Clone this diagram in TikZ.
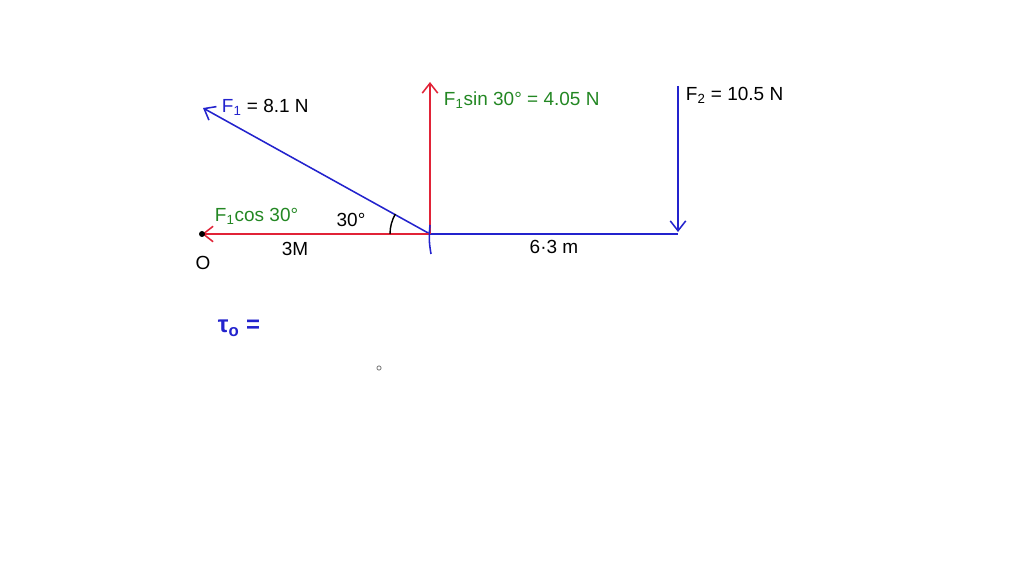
\documentclass[tikz,border=0pt]{standalone}
\usepackage{fontspec}
\setmainfont{Liberation Sans}
\usetikzlibrary{arrows.meta, positioning}

\definecolor{penblue}{RGB}{35,35,205}
\definecolor{penred}{RGB}{225,35,55}
\definecolor{pengreen}{RGB}{35,135,35}

\begin{document}
\begin{tikzpicture}[x=0.025cm, y=-0.025cm,
                    every node/.style={font=\fontsize{13.5}{16}\selectfont, inner sep=1pt},
                    force/.style={line width=1.1pt, -{Straight Barb[length=7pt, width=11pt, line width=1.1pt]}},
                    thick]

\useasboundingbox (0,0) rectangle (1024,576);

% Points
\coordinate (O) at (202,234);
\coordinate (P) at (430,234);
\coordinate (E) at (678,234);
\coordinate (F1tip) at (203,108);
\coordinate (Stip) at (430,82);
\coordinate (F2top) at (678,86);
\coordinate (F2tip) at (678,232);
\coordinate (tickA) at (430,225);
\coordinate (tickB) at (431,254);

% Edges
\draw[penblue, line width=1.1pt] (P) -- (E);
\draw[force, penblue] (P) -- (F1tip);
\draw[force, penred] (P) -- (O);
\draw[force, penred] (P) -- (Stip);
\draw[force, penblue] (F2top) -- (F2tip);
\draw[penblue, line width=1.1pt] (tickA) to[bend right=8] (tickB);
\draw[black, line width=1pt] ([shift={(210:40)}]P) arc[start angle=210, end angle=180, radius=40];
\fill[black] (O) circle (3);

% Labels
\node (f1) [anchor=west] at (220,107) {\textcolor{penblue}{F\textsubscript{1}} = 8.1 N};
\node (fsin) [anchor=west, pengreen] at (442,100) {F\textsubscript{1}sin 30° = 4.05 N};
\node (f2) [anchor=west] at (684,95) {F\textsubscript{2} = 10.5 N};
\node (fcos) [anchor=west, pengreen] at (213,216) {F\textsubscript{1}cos 30°};
\node (ang) at (351,220) {30°};
\node (d1) at (295,249) {3M};
\node (d2) at (554,247) {6·3 m};
\node (o) at (203,263) {O};
\node (tau) [anchor=west, penblue, font=\fontsize{17}{20}\selectfont\bfseries] at (216,328) {τ\textsubscript{o} =};
\node (dot) [circle, draw=gray, inner sep=0pt, minimum size=3pt, line width=0.6pt] at (379,368) {};

\end{tikzpicture}
\end{document}
